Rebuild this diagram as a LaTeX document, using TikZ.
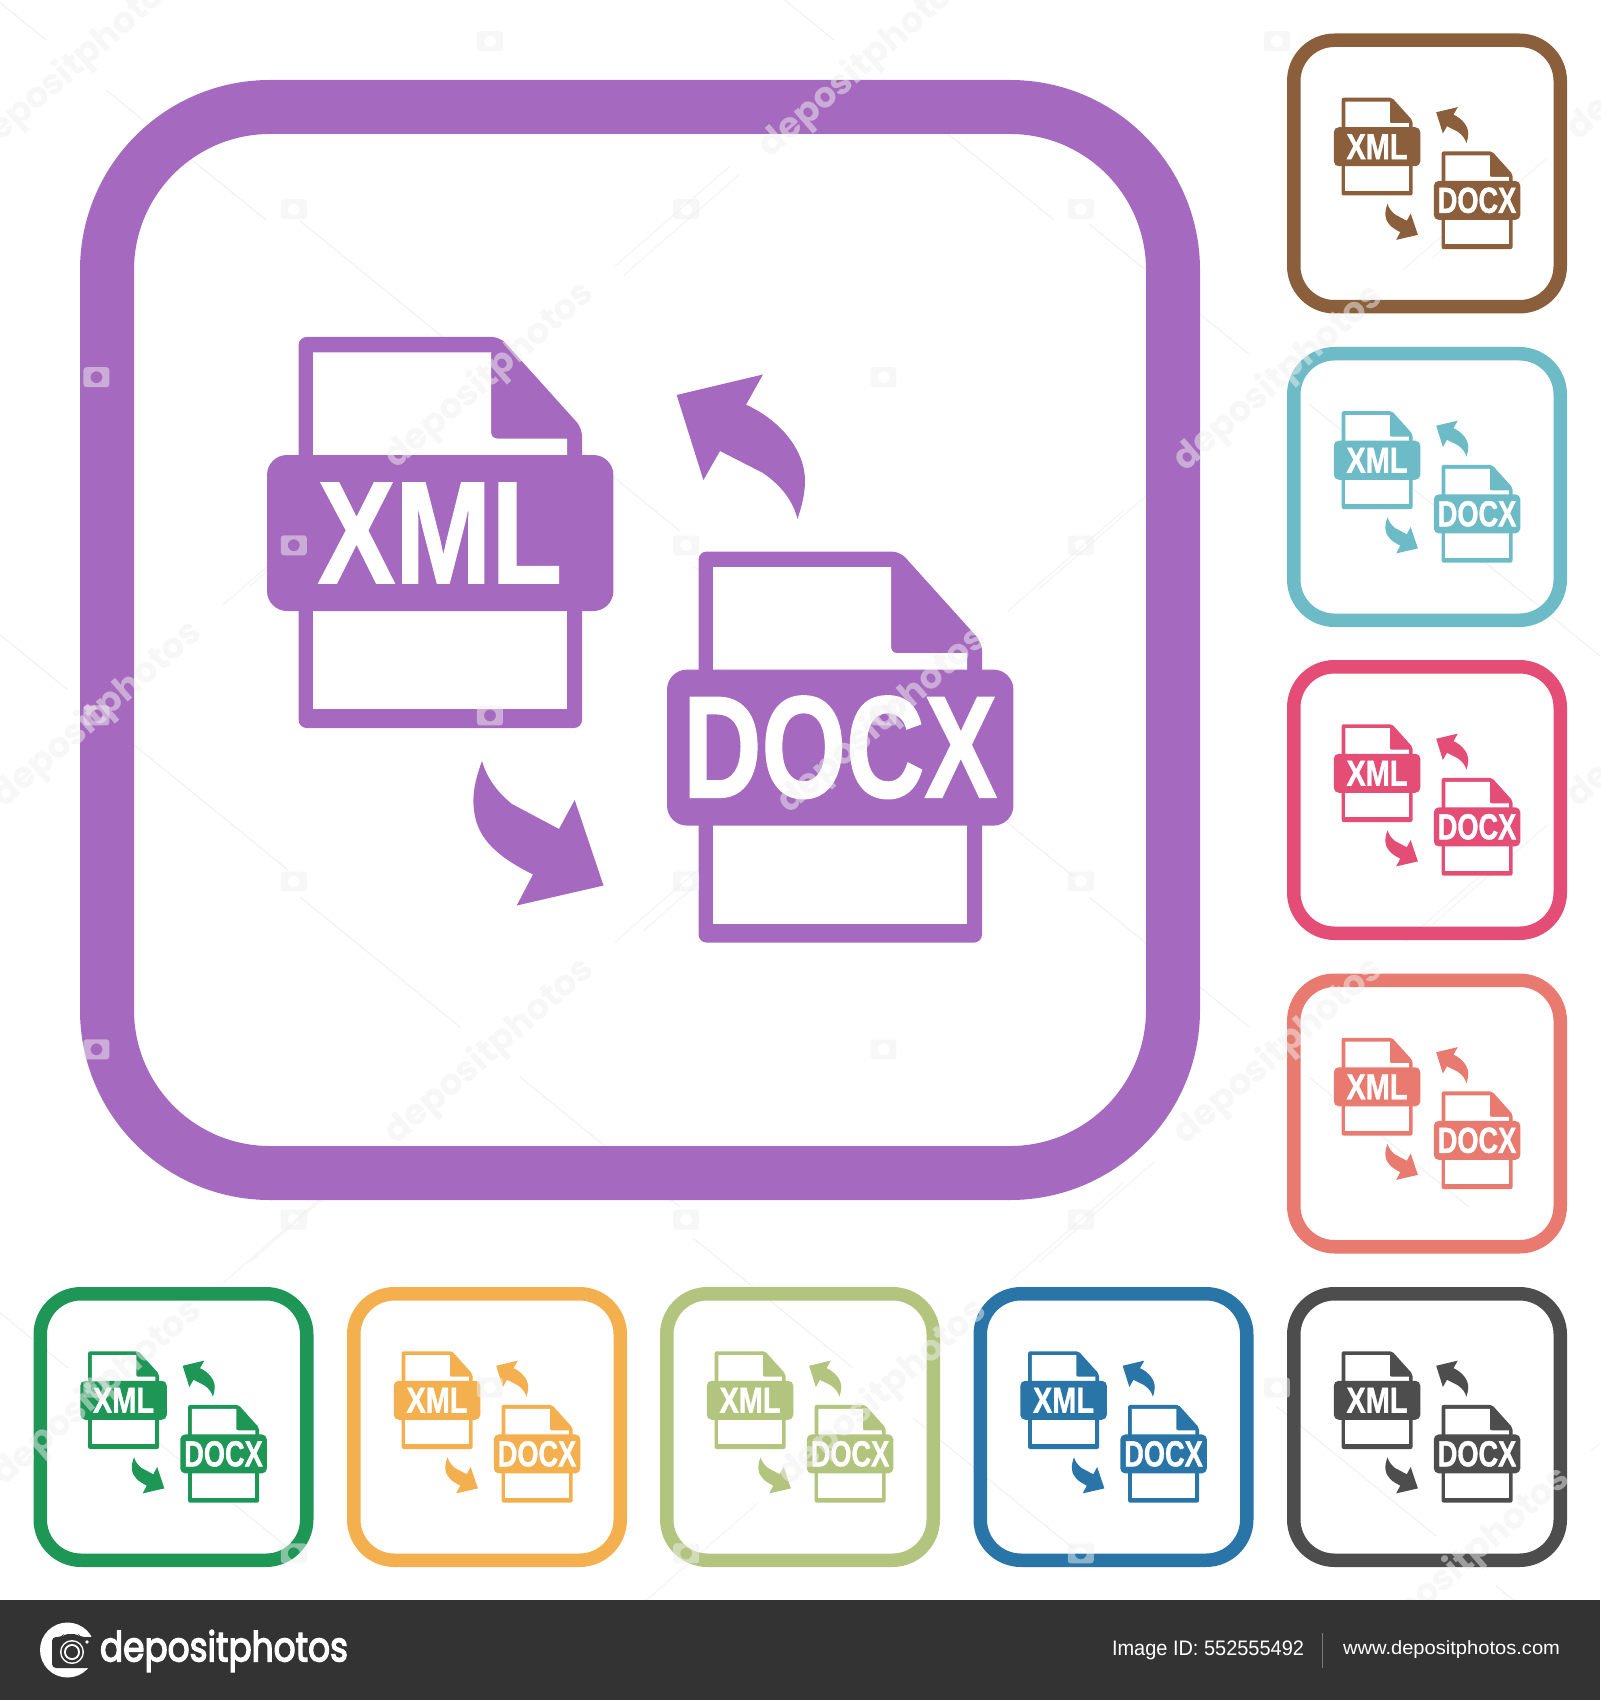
\documentclass[tikz,border=0pt]{standalone}
\usepackage{fontspec}
\setmainfont{Liberation Sans}
\newfontfamily\logofont{Poppins}
\newfontfamily\logoheavy[FakeBold=3.5]{Poppins}
\newfontfamily\heavyfont[FakeBold=1.2]{Liberation Sans Bold}
\definecolor{cpurple}{HTML}{A569BF}
\definecolor{cbrown}{HTML}{8B5E3C}
\definecolor{cteal}{HTML}{6DBBC7}
\definecolor{ccrimson}{HTML}{E34D76}
\definecolor{csalmon}{HTML}{E87A6F}
\definecolor{cgreen}{HTML}{1E9656}
\definecolor{corange}{HTML}{F4B04F}
\definecolor{colive}{HTML}{B2C47E}
\definecolor{cblue}{HTML}{2A75A8}
\definecolor{cgray}{HTML}{4D4D4D}
\definecolor{cfoot}{HTML}{333333}
\definecolor{cwm}{HTML}{F0F0F0}
\tikzset{
  lettering/.style={inner sep=0pt,outer sep=0pt,text=white,font=\heavyfont,transform shape},
  wmark/.style={inner sep=0pt,text=cwm,opacity=.5,font=\logofont\bfseries,rotate=41},
  foottext/.style={inner sep=0pt,text=white},
}
\newcommand{\fileshape}[4]{%
 % #1 dx, #2 dy, #3 colour, #4 scale
 \begin{scope}[shift={(#1,#2)}]
  \fill[#3,rounded corners={#4*4pt}] (298.6,337) -- (500,337) -- (582,428) -- (582,728) -- (298.6,728) -- cycle;
  \fill[white] (313,352.5) -- (491,352.5) -- (491,431) .. controls (491,436) and (493,438.6) .. (498,438.6) -- (567,438.6) -- (567,470) -- (313,470) -- cycle;
  \fill[white] (313,600) rectangle (567,709);
  \fill[#3,rounded corners={#4*10pt}] (267,455) rectangle (613.4,611);
 \end{scope}}
\newcommand{\iconset}[4]{%
 % #1 x, #2 y, #3 scale, #4 colour
 \begin{scope}[shift={(#1-#3*80,#2-#3*80)},scale=#3,name prefix=#4-]
  \fill[#4,even odd rule,rounded corners={#3*95pt}] (80,80) rectangle (1200,1200)
     [rounded corners={#3*68pt}] (134,134) rectangle (1146,1146);
  \fileshape{0}{0}{#4}{#3}
  \fileshape{400}{214.6}{#4}{#3}
  \node[lettering] (xml) at (440,533) {\resizebox{122pt}{50pt}{XML}};
  \node[lettering] (docx) at (840,747.3) {\resizebox*{157pt}{51.3pt}{DOCX}};
  \fill[#4] (676.7,395) -- (763,374.5) -- (746,404.7) .. controls (780,420) and (805,450) .. (805,481)
     .. controls (805,495) and (801,508) .. (797.5,519) .. controls (794,505) and (785,488) .. (763,473)
     -- (720,451) -- (703.4,480) -- cycle;
  \fill[#4] (603.5,885.5) -- (574.7,800) -- (559,829) -- (512,804) .. controls (497,792) and (487,778) .. (482,761)
     .. controls (475,780) and (472,795) .. (474,810) .. controls (477,840) and (500,858) .. (533,874.5)
     -- (516.7,905.5) -- cycle;
 \end{scope}}
\begin{document}
\begin{tikzpicture}[x=.5pt,y=-.5pt]
\useasboundingbox (0,0) rectangle (1600,1700);
\fill[white] (0,0) rectangle (1600,1700);
% faint watermark lines
\begin{scope}
\clip (0,0) rectangle (1600,1600);
\foreach \x/\y in {76/65,864/65,490/376,1279/379,98/715,883/721,490/1052,1279/1052,98/1393,883/1393,1672/48,1672/715,1466/1561}
{
  \draw[color=black!5,line width=.6pt] (\x+30,\y+25) -- (\x+190,\y+155);
  \draw[color=black!5,line width=.6pt] (\x-30,\y-25) -- (\x-190,\y-155);
  \draw[color=black!4,line width=.6pt] (\x+125,\y-110) -- (\x+240,\y-210);
  \draw[color=black!4,line width=.6pt] (\x-125,\y+110) -- (\x-240,\y+210);
}
\end{scope}
\iconset{80}{80}{1}{cpurple}
\iconset{1287}{33.5}{.25}{cbrown}
\iconset{1287}{347}{.25}{cteal}
\iconset{1287}{660}{.25}{ccrimson}
\iconset{1287}{973.5}{.25}{csalmon}
\iconset{33.5}{1287}{.25}{cgreen}
\iconset{347}{1287}{.25}{corange}
\iconset{660}{1287}{.25}{colive}
\iconset{973.5}{1287}{.25}{cblue}
\iconset{1287}{1287}{.25}{cgray}
% watermark
\foreach \x/\y [count=\i] in {76/65,864/65,490/376,1279/379,98/715,883/721,490/1052,1279/1052,98/1393,883/1393,1672/48,1672/715,1466/1561}
  \node[wmark] (wm\i) at (\x,\y) {\resizebox{132pt}{!}{depositphotos}};
\foreach \x/\y in {271/193,633/193,997/193,89/348,815/348,271/503,633/503,997/503,89/660,452/660,815/660,271/813,633/813,997/813,89/968,815/968,271/1125,633/1125,997/1125,452/38,1178/38,89/1280,452/1280,1178/1280,271/1433,997/1433,633/1433}
{
  \fill[cwm,opacity=.5,even odd rule,rounded corners=1.5pt] (\x*1.084-13,\y*1.084-10) rectangle (\x*1.084+13,\y*1.084+10)
    [sharp corners] (\x*1.084+6,\y*1.084) arc[start angle=0,end angle=360,radius=6];
}
% footer
\fill[cfoot] (0,1600) rectangle (1600,1700);
\fill[white] (67.5,1650) circle[radius=27.5];
\fill[cfoot,rounded corners=2pt] (52,1637) -- (62,1637) -- (64,1634) -- (78,1634) -- (80,1637) -- (96,1637) -- (96,1668) -- (52,1668) -- cycle;
\fill[white] (72,1652) circle[radius=12];
\fill[cfoot] (72,1652) circle[radius=10.5];
\fill[white] (72,1652) circle[radius=8];
\fill[cfoot] (72,1652) circle[radius=6];
\fill[white] (87,1642) circle[radius=1.8];
\node[foottext,font=\logoheavy] (logo) at (224,1651) {\resizebox*{124pt}{21pt}{depositphotos}};
\node[foottext] (imgid) at (1208,1650.5) {\resizebox*{96pt}{9.5pt}{Image ID: 552555492}};
\node[foottext] (site) at (1451.5,1650) {\resizebox*{108.5pt}{8.9pt}{www.depositphotos.com}};
\draw[white,opacity=.35,line width=.4pt] (1322,1633) -- (1322,1668);
\end{tikzpicture}
\end{document}
